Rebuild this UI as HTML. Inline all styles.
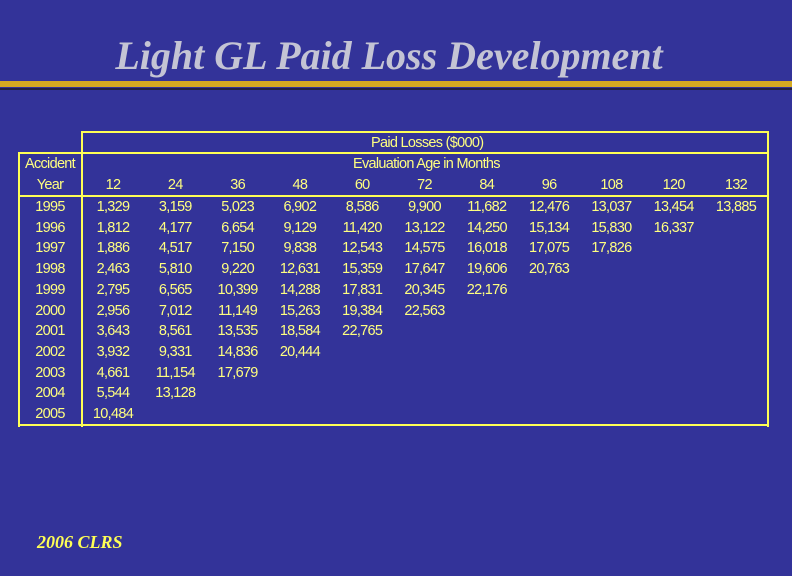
<!DOCTYPE html>
<html><head><meta charset="utf-8"><style>
body{margin:0;width:792px;height:576px;background:#333399;position:relative;overflow:hidden;font-family:"Liberation Sans",Arial,sans-serif}
.t{position:absolute;color:#ffff80;font-size:14.5px;line-height:16px;text-align:center;width:70px;margin-left:-35px;letter-spacing:-0.7px}
.ln{position:absolute;background:#ffff55}
</style></head><body>
<div style="position:absolute;left:0;width:778px;top:32px;text-align:center;font-family:'Liberation Serif',serif;font-style:italic;font-weight:bold;font-size:40px;color:#c4c4d4">Light GL Paid Loss Development</div>
<div style="position:absolute;left:0;width:792px;top:81px;height:6px;background:#d4aa22"></div>
<div style="position:absolute;left:0;width:792px;top:88px;height:2px;background:#222244"></div>
<div style="position:absolute;left:37px;top:532px;font-family:'Liberation Serif',serif;font-style:italic;font-weight:bold;font-size:18px;color:#ffff55">2006 CLRS</div>
<div id="tbl"></div>
<script>
const years=["1995","1996","1997","1998","1999","2000","2001","2002","2003","2004","2005"];
const ages=["12","24","36","48","60","72","84","96","108","120","132"];
const rows=[
["1,329","3,159","5,023","6,902","8,586","9,900","11,682","12,476","13,037","13,454","13,885"],
["1,812","4,177","6,654","9,129","11,420","13,122","14,250","15,134","15,830","16,337"],
["1,886","4,517","7,150","9,838","12,543","14,575","16,018","17,075","17,826"],
["2,463","5,810","9,220","12,631","15,359","17,647","19,606","20,763"],
["2,795","6,565","10,399","14,288","17,831","20,345","22,176"],
["2,956","7,012","11,149","15,263","19,384","22,563"],
["3,643","8,561","13,535","18,584","22,765"],
["3,932","9,331","14,836","20,444"],
["4,661","11,154","17,679"],
["5,544","13,128"],
["10,484"]];
const T=document.getElementById('tbl');
function line(x,y,w,h,n){const d=document.createElement('div');d.className='ln';


d.style.cssText=`left:${x}px;top:${y}px;width:${w}px;height:${h}px`;T.appendChild(d);}
function txt(s,x,y,n,left){const d=document.createElement('div');d.className='t';


d.textContent=s;d.style.left=x+'px';d.style.top=y+'px';
if(left){d.style.width='auto';d.style.marginLeft='0';d.style.textAlign='left';}
T.appendChild(d);}
line(81,131,688,2,'header-top-border');
line(81,131,2,296,'year-column-right-border');
line(767,131,2,296,'table-right-border');
line(18,152,751,2,'header-mid-border');
line(18,152,2,275,'table-left-border');
line(18,195,751,2,'header-bottom-border');
line(18,424,751,2,'table-bottom-border');
txt('Paid Losses ($000)',371,135,'header-paid-losses',true);
txt('Evaluation Age in Months',353,156,'header-evaluation-age',true);
txt('Accident',50,156,'header-accident');
txt('Year',50,177,'header-year');
const x0=113,dx=62.3,y0=199,dy=20.7;
ages.forEach((a,i)=>txt(a,x0+i*dx,177,'age-'+a));
years.forEach((y,r)=>{txt(y,50,y0+r*dy,'year-'+y);
rows[r].forEach((v,c)=>txt(v,x0+c*dx,y0+r*dy,'cell-'+y+'-'+ages[c]));});
</script>
</body></html>
